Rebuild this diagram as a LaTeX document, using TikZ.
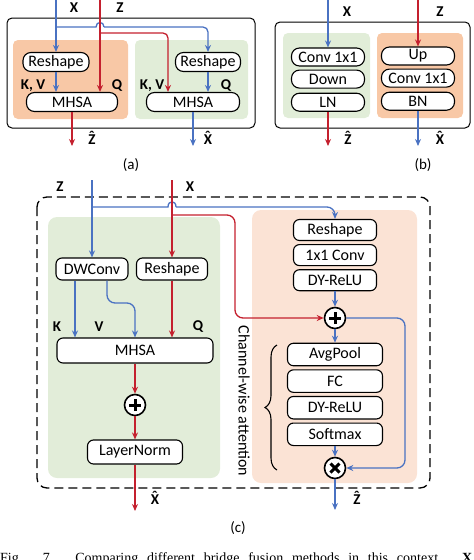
\documentclass[tikz,border=0pt]{standalone}
\usepackage{fontspec}
\setmainfont{Carlito}
\newfontfamily\capfont{Liberation Serif}
\usetikzlibrary{arrows,arrows.meta,positioning,decorations.pathreplacing}

\definecolor{bl}{HTML}{4A72C2}
\definecolor{rd}{HTML}{C4202E}
\definecolor{orA}{HTML}{F8C8A6}
\definecolor{grA}{HTML}{E1EDD8}
\definecolor{orC}{HTML}{FBE3D5}
\definecolor{grC}{HTML}{E2EDD9}

% bold letter with a hat
\newcommand{\hatb}[1]{\ooalign{#1\cr\hidewidth\raisebox{3.5pt}{\char"02C6}\hidewidth\cr}}

\tikzset{
  pill/.style={draw, fill=white, line width=1.1pt, rounded corners=8pt, inner sep=0pt,
    minimum height=19pt, font=\fontsize{16}{16}\selectfont},
  blk/.style={draw, fill=white, line width=1.1pt, rounded corners=6pt, inner sep=0pt,
    minimum height=22pt, font=\fontsize{16}{16}\selectfont},
  lbl/.style={font=\bfseries\fontsize{15}{15}\selectfont, inner sep=0pt},
  sub/.style={font=\fontsize{15}{15}\selectfont, inner sep=0pt},
  op/.style={draw, circle, fill=white, line width=1.6pt, minimum size=21pt, inner sep=0pt},
  plusop/.style={op, path picture={
    \draw[line width=3pt] ([xshift=-6pt]path picture bounding box.center) -- ([xshift=6pt]path picture bounding box.center)
      ([yshift=-6pt]path picture bounding box.center) -- ([yshift=6pt]path picture bounding box.center);}},
  timesop/.style={op, path picture={
    \draw[line width=3pt] ([shift={(-4.5pt,-4.5pt)}]path picture bounding box.center) -- ([shift={(4.5pt,4.5pt)}]path picture bounding box.center)
      ([shift={(-4.5pt,4.5pt)}]path picture bounding box.center) -- ([shift={(4.5pt,-4.5pt)}]path picture bounding box.center);}},
  bline/.style={bl, line width=1.3pt},
  rline/.style={rd, line width=1.3pt},
}

\begin{document}
\begin{tikzpicture}[x=1pt,y=-1pt,>={Stealth[length=7pt,width=6pt]}]
  \clip (0,0) rectangle (474,560);
  \useasboundingbox (0,0) rectangle (474,560);

  % (a)
  \draw[line width=1pt, rounded corners=5pt] (7,18) rectangle (255,128);
  \fill[orA, rounded corners=5pt] (13,40) rectangle (128,119);
  \fill[grA, rounded corners=5pt] (135,40) rectangle (248,119);
  \node[pill, minimum width=66pt] (aresh1) at (56,62) {Reshape};
  \node[pill, minimum width=91pt] (amhsa1) at (72,102) {MHSA};
  \node[pill, minimum width=65pt] (aresh2) at (208,62) {Reshape};
  \node[pill, minimum width=93pt] (amhsa2) at (193,102) {MHSA};
  \coordinate (ax) at (56,0);
  \coordinate (az) at (100,0);
  \coordinate (abr) at (168,33);
  \coordinate (azo) at (72,146);
  \coordinate (axo) at (193,146);
  \node[lbl] (axl) at (74,8) {X};
  \node[lbl] (azl) at (120,8) {Z};
  \node[lbl] (akv1) at (33,86) {K, V};
  \node[lbl] (aq1) at (117,86) {Q};
  \node[lbl] (akv2) at (152,86) {K, V};
  \node[lbl] (aq2) at (226,86) {Q};
  \node[lbl] (azh) at (92,140) {\hatb{Z}};
  \node[lbl] (axh) at (208,140) {\hatb{X}};
  \node[sub] (acap) at (131,165) {(a)};

  \draw[bline,->] (ax) -- (aresh1);
  \draw[bline,->] (aresh1) -- (amhsa1.north -| aresh1);
  \draw[bline] (56,27) -- (96,27) .. controls (96,21) and (104,21) .. (104,27);
  \draw[bline,->,rounded corners=5pt] (104,27) -- (208,27) -- (aresh2);
  \draw[bline,->] (aresh2) -- (amhsa2.north -| aresh2);
  \draw[rline,->] (az) -- (amhsa1.north -| az);
  \draw[rline,->,rounded corners=5pt] (100,33) -- (abr) -- (abr |- amhsa2.north);
  \draw[rline,->] (amhsa1) -- (azo);
  \draw[bline,->] (amhsa2) -- (axo);

  % (b)
  \draw[line width=1pt, rounded corners=5pt] (275,22) rectangle (470,128);
  \fill[grA, rounded corners=5pt] (283,33) rectangle (370,118);
  \fill[orA, rounded corners=5pt] (377,33) rectangle (463,118);
  \node[pill, minimum width=73pt, minimum height=18pt] (bconv1) at (328,57) {Conv 1x1};
  \node[pill, minimum width=73pt, minimum height=18pt, below=3pt of bconv1] (bdown) {Down};
  \node[pill, minimum width=73pt, minimum height=18pt, below=4pt of bdown] (bln) {LN};
  \node[pill, minimum width=73pt, minimum height=18pt] (bup) at (418,56) {Up};
  \node[pill, minimum width=73pt, minimum height=18pt, below=3pt of bup] (bconv2) {Conv 1x1};
  \node[pill, minimum width=73pt, minimum height=18pt, below=4pt of bconv2] (bbn) {BN};
  \coordinate (bx) at (328,0);
  \coordinate (bz) at (418,0);
  \coordinate (bzo) at (328,146);
  \coordinate (bxo) at (418,146);
  \node[lbl] (bxl) at (347,12) {X};
  \node[lbl] (bzl) at (440,12) {Z};
  \node[lbl] (bzh) at (348,140) {\hatb{Z}};
  \node[lbl] (bxh) at (440,140) {\hatb{X}};
  \node[sub] (bcap) at (423,165) {(b)};

  \draw[bline,->] (bx) -- (bconv1);
  \draw[rline,->] (bz) -- (bup);
  \draw[rline,->] (bln) -- (bzo);
  \draw[bline,->] (bbn) -- (bxo);

  % (c)
  \draw[line width=1.3pt, dash pattern=on 9pt off 5pt, rounded corners=10pt] (37,197) rectangle (430,488);
  \fill[grC, rounded corners=9pt] (48,217) rectangle (220,478);
  \fill[orC, rounded corners=9pt] (252,210) rectangle (417,483);
  \node[blk, minimum width=72pt] (cdw) at (92,269) {DWConv};
  \node[blk, minimum width=71pt] (cresh1) at (172,269) {Reshape};
  \node[blk, minimum width=156pt, minimum height=25pt] (cmhsa) at (135,350.5) {MHSA};
  \node[plusop] (caddl) at (135,405) {};
  \node[blk, minimum width=95pt, minimum height=24pt] (cln) at (135,452) {LayerNorm};
  \node[blk, minimum width=83pt, minimum height=21pt] (cresh2) at (335,230) {Reshape};
  \node[blk, minimum width=83pt, minimum height=21pt, below=3pt of cresh2] (cconv) {1x1 Conv};
  \node[blk, minimum width=83pt, minimum height=21pt, below=3pt of cconv] (crelu1) {DY-ReLU};
  \node[plusop] (caddr) at (335,318) {};
  \node[blk, minimum width=95pt, minimum height=22.5pt] (cpool) at (335,354.5) {AvgPool};
  \node[blk, minimum width=95pt, minimum height=22.5pt, below=3pt of cpool] (cfc) {FC};
  \node[blk, minimum width=95pt, minimum height=22.5pt, below=3pt of cfc] (crelu2) {DY-ReLU};
  \node[blk, minimum width=95pt, minimum height=22.5pt, below=3pt of crelu2] (csoft) {Softmax};
  \node[timesop] (cmul) at (335,468) {};
  \coordinate (cz) at (92,180);
  \coordinate (cx) at (172,180);
  \coordinate (ck) at (75,0);
  \coordinate (cv) at (107,0);
  \coordinate (cvm) at (135,303);
  \coordinate (cxo) at (135,511);
  \coordinate (czo) at (335,510);
  \node[lbl] (czl) at (60,187) {Z};
  \node[lbl] (cxl) at (190,187) {X};
  \node[lbl] (ckl) at (57,327) {K};
  \node[lbl] (cvl) at (99,327) {V};
  \node[lbl] (cql) at (198,327) {Q};
  \node[lbl] (cxh) at (155,500) {\hatb{X}};
  \node[lbl] (czh) at (357,500) {\hatb{Z}};
  \node[sub] (ccap) at (238,528) {(c)};
  \node[font=\fontsize{16}{16}\selectfont, rotate=-90, inner sep=0pt] (catt) at (244,401) {Channel-wise attention};
  \draw[line width=1.1pt, decorate, decoration={brace, amplitude=12pt}] (277,470) -- (277,345);

  \draw[bline,->] (cz) -- (cdw);
  \draw[bline] (92,207) -- (168,207) .. controls (168,200) and (176,200) .. (176,207);
  \draw[bline,->,rounded corners=8pt] (176,207) -- (335,207) -- (cresh2);
  \draw[rline,->] (cx) -- (cresh1);
  \draw[rline,->,rounded corners=8pt] (172,215) -- (235,215) -- (235,318) -- (caddr);
  \draw[bline,->] (cdw.south -| ck) -- (cmhsa.north -| ck);
  \draw[bline,->,rounded corners=8pt] (cdw.south -| cv) |- (cvm) -- (cmhsa.north -| cvm);
  \draw[rline,->] (cresh1) -- (cmhsa.north -| cresh1);
  \draw[rline,->] (cmhsa) -- (caddl);
  \draw[rline,->] (caddl) -- (cln);
  \draw[rline,->] (cln) -- (cxo);
  \draw[bline,->] (crelu1) -- (caddr);
  \draw[bline,->] (caddr) -- (cpool);
  \draw[bline,->,rounded corners=8pt] (caddr) -- (405,318) -- (405,468) -- (cmul);
  \draw[bline,->] (csoft) -- (cmul);
  \draw[bline,->] (cmul) -- (czo);

  % caption
  \node[anchor=base west, inner sep=0pt, font=\capfont\fontsize{14}{14}\selectfont] (capt) at (0,562.5)
    {\makebox[472pt][s]{Fig. 7.\hspace{22pt}Comparing different bridge fusion methods in this context. \textbf{X}}};
\end{tikzpicture}
\end{document}
